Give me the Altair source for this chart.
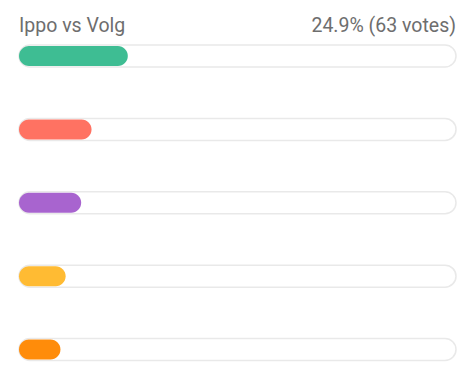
import altair as alt
import pandas as pd

# Poll options (only the first label is visible in the reference)
titles = ["Ippo vs Volg", "", "", "", ""]
votes = [63, 42, 36, 27, 24]
total_votes = 253
colors = ["#3ebd93", "#ff7262", "#a864cf", "#ffbb33", "#ff8c0a"]

rows = []
for i, (t, v, c) in enumerate(zip(titles, votes, colors)):
    share = v / total_votes
    rows.append({
        "idx": i,
        "title": t,
        "votes": v,
        "share": share,
        "start": 0.0,
        "end": 1.0,
        "label": f"{share*100:.1f}% ({v} votes)" if t else "",
        "color": c,
    })
df = pd.DataFrame(rows)

x_scale = alt.Scale(domain=[0, 1], range=[11, 448], padding=0, nice=False, zero=False)
y_scale = alt.Scale(domain=[0, 4], range=[48, 341.5], padding=0, nice=False, zero=False)

base = alt.Chart(df)

track = base.mark_bar(
    size=22, cornerRadius=11, fill="#ffffff", stroke="#e9e9e9", strokeWidth=1.5
).encode(
    x=alt.X("start:Q", scale=x_scale, axis=None),
    x2="end:Q",
    y=alt.Y("idx:Q", scale=y_scale, axis=None),
)

fillbar = base.mark_bar(size=20, cornerRadius=10).encode(
    x=alt.X("start:Q", scale=x_scale, axis=None),
    x2="share:Q",
    y=alt.Y("idx:Q", scale=y_scale, axis=None),
    color=alt.Color("color:N", scale=None, legend=None),
)

title_text = base.transform_filter("datum.title != ''").mark_text(
    align="left", baseline="alphabetic", dy=-24, fontSize=19.5,
    font="Roboto", color="#6e6e6e"
).encode(
    x=alt.X("start:Q", scale=x_scale, axis=None),
    y=alt.Y("idx:Q", scale=y_scale, axis=None),
    text="title:N",
)

value_text = base.transform_filter("datum.label != ''").mark_text(
    align="right", baseline="alphabetic", dy=-24, fontSize=19.5,
    font="Roboto", color="#6e6e6e"
).encode(
    x=alt.X("end:Q", scale=x_scale, axis=None),
    y=alt.Y("idx:Q", scale=y_scale, axis=None),
    text="label:N",
)

chart = alt.layer(track, fillbar, title_text, value_text).properties(
    width=458, height=354, padding=0,
    autosize=alt.AutoSizeParams(type="none"),
).configure_view(stroke=None)

chart.save("out.html", embed_options={"renderer": "svg", "actions": False})
